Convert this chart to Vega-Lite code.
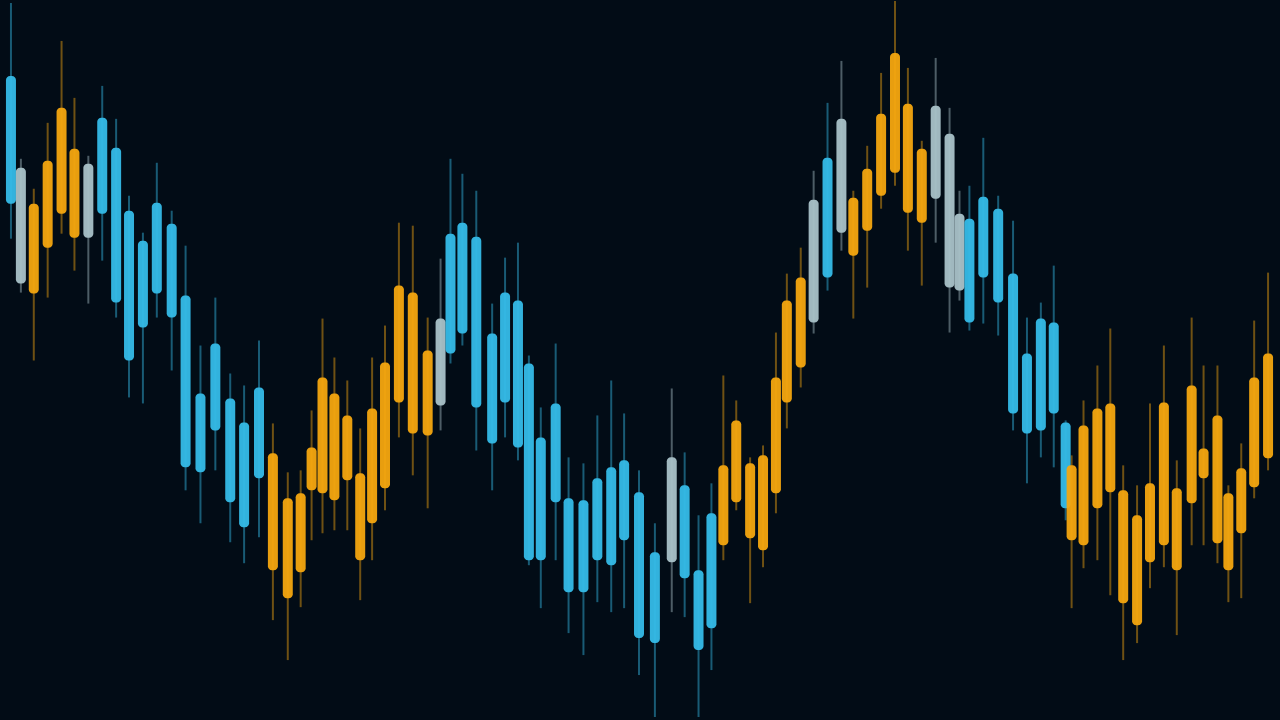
{
  "$schema": "https://vega.github.io/schema/vega-lite/v6.json",
  "autosize": {"type": "fit", "contains": "padding"},
  "width": 1280,
  "height": 720,
  "padding": 0,
  "background": "#020c16",
  "config": {"view": {"stroke": null}},
  "data": {
    "values": [
      {"t":6,"hi":2,"bt":75,"bb":203,"lo":238,"k":"b"},
      {"t":16,"hi":158,"bt":167,"bb":283,"lo":292,"k":"g"},
      {"t":29,"hi":188,"bt":203,"bb":293,"lo":360,"k":"o"},
      {"t":43,"hi":122,"bt":160,"bb":247,"lo":297,"k":"o"},
      {"t":57,"hi":40,"bt":107,"bb":213,"lo":233,"k":"o"},
      {"t":70,"hi":97,"bt":148,"bb":237,"lo":270,"k":"o"},
      {"t":84,"hi":155,"bt":163,"bb":237,"lo":303,"k":"g"},
      {"t":98,"hi":85,"bt":117,"bb":213,"lo":260,"k":"b"},
      {"t":112,"hi":118,"bt":147,"bb":302,"lo":317,"k":"b"},
      {"t":125,"hi":195,"bt":210,"bb":360,"lo":397,"k":"b"},
      {"t":139,"hi":232,"bt":240,"bb":327,"lo":403,"k":"b"},
      {"t":153,"hi":162,"bt":202,"bb":293,"lo":317,"k":"b"},
      {"t":168,"hi":210,"bt":223,"bb":317,"lo":370,"k":"b"},
      {"t":182,"hi":245,"bt":295,"bb":467,"lo":490,"k":"b"},
      {"t":197,"hi":345,"bt":393,"bb":472,"lo":523,"k":"b"},
      {"t":212,"hi":297,"bt":343,"bb":430,"lo":470,"k":"b"},
      {"t":227,"hi":373,"bt":398,"bb":502,"lo":542,"k":"b"},
      {"t":241,"hi":385,"bt":422,"bb":527,"lo":563,"k":"b"},
      {"t":256,"hi":340,"bt":387,"bb":478,"lo":537,"k":"b"},
      {"t":270,"hi":423,"bt":453,"bb":570,"lo":620,"k":"o"},
      {"t":285,"hi":472,"bt":498,"bb":598,"lo":660,"k":"o"},
      {"t":298,"hi":470,"bt":493,"bb":572,"lo":607,"k":"o"},
      {"t":309,"hi":410,"bt":447,"bb":490,"lo":540,"k":"o"},
      {"t":320,"hi":318,"bt":377,"bb":493,"lo":533,"k":"o"},
      {"t":332,"hi":357,"bt":393,"bb":500,"lo":530,"k":"o"},
      {"t":345,"hi":380,"bt":415,"bb":480,"lo":530,"k":"o"},
      {"t":358,"hi":428,"bt":473,"bb":560,"lo":600,"k":"o"},
      {"t":370,"hi":357,"bt":408,"bb":523,"lo":560,"k":"o"},
      {"t":383,"hi":325,"bt":362,"bb":488,"lo":510,"k":"o"},
      {"t":397,"hi":222,"bt":285,"bb":402,"lo":437,"k":"o"},
      {"t":411,"hi":225,"bt":292,"bb":433,"lo":475,"k":"o"},
      {"t":426,"hi":317,"bt":350,"bb":435,"lo":508,"k":"o"},
      {"t":439,"hi":258,"bt":318,"bb":405,"lo":430,"k":"g"},
      {"t":449,"hi":158,"bt":233,"bb":353,"lo":363,"k":"b"},
      {"t":461,"hi":173,"bt":222,"bb":333,"lo":345,"k":"b"},
      {"t":475,"hi":190,"bt":236,"bb":407,"lo":450,"k":"b"},
      {"t":491,"hi":303,"bt":333,"bb":443,"lo":490,"k":"b"},
      {"t":504,"hi":257,"bt":292,"bb":402,"lo":437,"k":"b"},
      {"t":517,"hi":242,"bt":300,"bb":447,"lo":460,"k":"b"},
      {"t":528,"hi":355,"bt":363,"bb":560,"lo":565,"k":"b"},
      {"t":540,"hi":407,"bt":437,"bb":560,"lo":608,"k":"b"},
      {"t":555,"hi":343,"bt":403,"bb":502,"lo":560,"k":"b"},
      {"t":568,"hi":457,"bt":498,"bb":592,"lo":633,"k":"b"},
      {"t":583,"hi":463,"bt":500,"bb":592,"lo":655,"k":"b"},
      {"t":597,"hi":415,"bt":478,"bb":560,"lo":602,"k":"b"},
      {"t":611,"hi":380,"bt":467,"bb":565,"lo":612,"k":"b"},
      {"t":624,"hi":413,"bt":460,"bb":540,"lo":608,"k":"b"},
      {"t":639,"hi":470,"bt":492,"bb":638,"lo":675,"k":"b"},
      {"t":655,"hi":523,"bt":552,"bb":643,"lo":717,"k":"b"},
      {"t":672,"hi":388,"bt":457,"bb":562,"lo":612,"k":"g"},
      {"t":685,"hi":452,"bt":485,"bb":578,"lo":617,"k":"b"},
      {"t":699,"hi":515,"bt":570,"bb":650,"lo":717,"k":"b"},
      {"t":712,"hi":483,"bt":513,"bb":628,"lo":670,"k":"b"},
      {"t":724,"hi":375,"bt":465,"bb":545,"lo":560,"k":"o"},
      {"t":737,"hi":400,"bt":420,"bb":502,"lo":510,"k":"o"},
      {"t":751,"hi":457,"bt":463,"bb":538,"lo":603,"k":"o"},
      {"t":764,"hi":445,"bt":455,"bb":550,"lo":567,"k":"o"},
      {"t":777,"hi":332,"bt":377,"bb":493,"lo":513,"k":"o"},
      {"t":788,"hi":273,"bt":300,"bb":402,"lo":428,"k":"o"},
      {"t":802,"hi":247,"bt":277,"bb":367,"lo":387,"k":"o"},
      {"t":815,"hi":170,"bt":199,"bb":322,"lo":333,"k":"g"},
      {"t":829,"hi":102,"bt":157,"bb":277,"lo":290,"k":"b"},
      {"t":843,"hi":60,"bt":118,"bb":232,"lo":250,"k":"g"},
      {"t":855,"hi":190,"bt":197,"bb":255,"lo":318,"k":"o"},
      {"t":869,"hi":145,"bt":168,"bb":230,"lo":287,"k":"o"},
      {"t":883,"hi":72,"bt":113,"bb":195,"lo":208,"k":"o"},
      {"t":897,"hi":0,"bt":52,"bb":172,"lo":185,"k":"o"},
      {"t":910,"hi":67,"bt":103,"bb":212,"lo":250,"k":"o"},
      {"t":924,"hi":140,"bt":148,"bb":222,"lo":285,"k":"o"},
      {"t":938,"hi":57,"bt":105,"bb":198,"lo":242,"k":"g"},
      {"t":952,"hi":107,"bt":133,"bb":287,"lo":332,"k":"g"},
      {"t":962,"hi":190,"bt":213,"bb":290,"lo":300,"k":"g"},
      {"t":972,"hi":185,"bt":218,"bb":322,"lo":330,"k":"b"},
      {"t":986,"hi":137,"bt":196,"bb":277,"lo":323,"k":"b"},
      {"t":1001,"hi":195,"bt":208,"bb":302,"lo":335,"k":"b"},
      {"t":1016,"hi":220,"bt":273,"bb":413,"lo":430,"k":"b"},
      {"t":1030,"hi":317,"bt":353,"bb":433,"lo":483,"k":"b"},
      {"t":1044,"hi":302,"bt":318,"bb":430,"lo":457,"k":"b"},
      {"t":1057,"hi":265,"bt":322,"bb":413,"lo":467,"k":"b"},
      {"t":1069,"hi":420,"bt":422,"bb":508,"lo":520,"k":"b"},
      {"t":1075,"hi":455,"bt":465,"bb":540,"lo":608,"k":"o"},
      {"t":1087,"hi":400,"bt":425,"bb":545,"lo":568,"k":"o"},
      {"t":1101,"hi":365,"bt":408,"bb":508,"lo":560,"k":"o"},
      {"t":1114,"hi":328,"bt":403,"bb":492,"lo":595,"k":"o"},
      {"t":1127,"hi":465,"bt":490,"bb":603,"lo":660,"k":"o"},
      {"t":1141,"hi":485,"bt":515,"bb":625,"lo":643,"k":"o"},
      {"t":1154,"hi":403,"bt":483,"bb":562,"lo":588,"k":"o"},
      {"t":1168,"hi":345,"bt":402,"bb":545,"lo":567,"k":"o"},
      {"t":1181,"hi":460,"bt":488,"bb":570,"lo":635,"k":"o"},
      {"t":1196,"hi":317,"bt":385,"bb":503,"lo":545,"k":"o"},
      {"t":1208,"hi":365,"bt":448,"bb":478,"lo":545,"k":"o"},
      {"t":1222,"hi":365,"bt":415,"bb":543,"lo":563,"k":"o"},
      {"t":1233,"hi":485,"bt":493,"bb":570,"lo":602,"k":"o"},
      {"t":1246,"hi":443,"bt":468,"bb":533,"lo":598,"k":"o"},
      {"t":1259,"hi":320,"bt":377,"bb":487,"lo":498,"k":"o"},
      {"t":1273,"hi":272,"bt":353,"bb":458,"lo":470,"k":"o"}
    ]
  },
  "encoding": {
    "x": {"field": "t", "type": "quantitative", "scale": {"domain": [0, 1280], "nice": false, "zero": false}, "axis": null},
    "color": {"field": "k", "type": "nominal", "scale": {"domain": ["o", "b", "g"], "range": ["#f4a60f", "#35bce8", "#a9c2c8"]}, "legend": null}
  },
  "layer": [
    {
      "mark": {"type": "rule", "strokeWidth": 2, "opacity": 0.45},
      "encoding": {
        "y": {"field": "hi", "type": "quantitative", "scale": {"domain": [0, 720], "reverse": true, "nice": false, "zero": false}, "axis": null},
        "y2": {"field": "lo"}
      }
    },
    {
      "mark": {"type": "bar", "width": 10, "cornerRadius": 4, "opacity": 0.95},
      "encoding": {
        "y": {"field": "bt", "type": "quantitative", "scale": {"domain": [0, 720], "reverse": true, "nice": false, "zero": false}, "axis": null},
        "y2": {"field": "bb"}
      }
    }
  ]
}
